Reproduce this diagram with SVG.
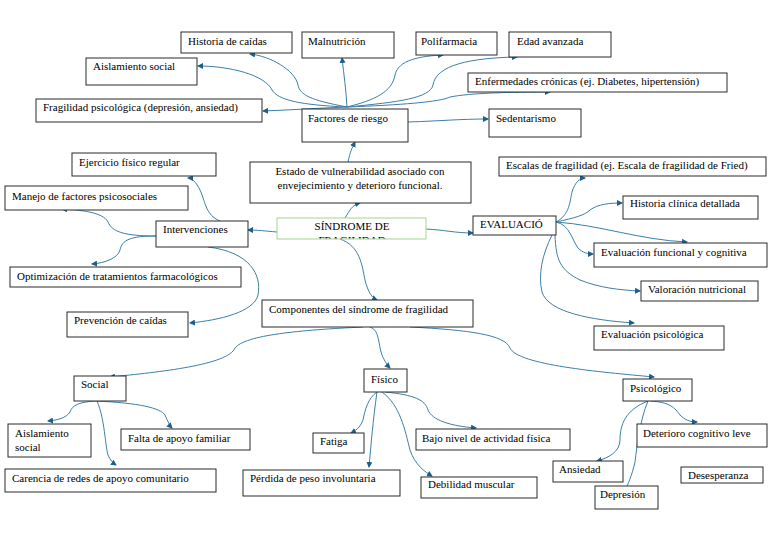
<svg xmlns="http://www.w3.org/2000/svg" width="768" height="543" viewBox="0 0 768 543">
<style>
.b{fill:#fff;stroke:#2a2a2a;stroke-width:1}
.t{font-family:"Liberation Serif","Times New Roman",serif;font-size:11px;fill:#000}
.c path{fill:none;stroke:#3b7fa8;stroke-width:1}
</style>
<defs>
<marker id="a" viewBox="0 0 6 6" refX="5" refY="3" markerWidth="6" markerHeight="6" markerUnits="userSpaceOnUse" orient="auto">
<path d="M0,0 L6,3 L0,6 z" fill="#1d5f8a"/>
</marker>
<clipPath id="sc"><rect x="277" y="218" width="149" height="20.5"/></clipPath>
</defs>
<rect width="768" height="543" fill="#fff"/>

<g class="c">
<path d="M347,107 C310,100 300,95 298,85 C295,70 270,56 250,54" marker-end="url(#a)"/>
<path d="M347,107 C300,105 278,100 272,90 C265,75 230,66 198,66" marker-end="url(#a)"/>
<path d="M347,107 C320,108 290,110 263,111" marker-end="url(#a)"/>
<path d="M347,107 C346,90 344,75 342,58" marker-end="url(#a)"/>
<path d="M347,107 C375,100 392,92 395,75 C398,60 420,56 443,55" marker-end="url(#a)"/>
<path d="M347,107 C400,102 430,98 433,85 C436,65 470,58 517,57" marker-end="url(#a)"/>
<path d="M347,107 C400,105 440,102 450,97 C470,93 510,92 550,92" marker-end="url(#a)"/>
<path d="M408,122 C440,121 460,119 488,119" marker-end="url(#a)"/>
<path d="M348,162 C350,152 352,148 355,142" marker-end="url(#a)"/>
<path d="M345,218 C350,210 352,205 360,203" marker-end="url(#a)"/>
<path d="M277,232 C265,231 258,230 248,230" marker-end="url(#a)"/>
<path d="M426,229 C445,230 455,233 473,233" marker-end="url(#a)"/>
<path d="M340,239 C360,246 362,265 365,280 C368,292 372,298 377,300" marker-end="url(#a)"/>
<path d="M220,221 C205,215 205,200 200,190 C196,182 192,178 188,178" marker-end="url(#a)"/>
<path d="M156,236 C125,236 112,232 108,222 C103,212 80,210 62,209" marker-end="url(#a)"/>
<path d="M156,236 C130,236 122,240 120,250 C118,258 105,263 92,264" marker-end="url(#a)"/>
<path d="M208,247 C250,252 262,275 258,295 C254,312 220,320 190,323" marker-end="url(#a)"/>
<path d="M556,222 C570,215 570,200 572,192 C575,182 580,178 585,178" marker-end="url(#a)"/>
<path d="M556,222 C575,218 585,215 590,210 C598,204 610,203 622,203" marker-end="url(#a)"/>
<path d="M556,222 C600,225 640,240 687,242" marker-end="url(#a)"/>
<path d="M556,222 C570,225 572,240 578,248 C583,253 588,254 593,254" marker-end="url(#a)"/>
<path d="M555,235 C556,260 560,270 580,280 C600,288 620,290 640,291" marker-end="url(#a)"/>
<path d="M552,235 C542,255 538,275 542,292 C548,312 590,320 634,323" marker-end="url(#a)"/>
<path d="M363,327 C300,330 245,335 235,348 C228,365 160,372 110,377" marker-end="url(#a)"/>
<path d="M370,327 C380,330 378,345 382,355 C385,362 388,366 390,368" marker-end="url(#a)"/>
<path d="M410,327 C470,330 505,335 510,348 C518,365 600,372 654,377" marker-end="url(#a)"/>
<path d="M95,401 C80,402 72,405 70,412 C66,418 58,420 48,421" marker-end="url(#a)"/>
<path d="M95,401 C140,403 160,408 165,415 C168,422 170,426 172,428" marker-end="url(#a)"/>
<path d="M97,401 C105,420 105,445 108,455 C110,460 113,463 116,465" marker-end="url(#a)"/>
<path d="M377,392 C368,398 365,410 363,420 C360,428 355,431 351,433" marker-end="url(#a)"/>
<path d="M377,392 C373,420 371,445 369,467" marker-end="url(#a)"/>
<path d="M385,392 C415,395 425,400 428,410 C432,420 450,426 476,428" marker-end="url(#a)"/>
<path d="M382,392 C400,405 405,430 410,450 C415,465 425,472 432,476" marker-end="url(#a)"/>
<path d="M650,401 C670,402 675,408 680,415 C685,420 690,422 697,422" marker-end="url(#a)"/>
<path d="M648,401 C625,410 620,425 620,440 C620,452 608,458 597,461" marker-end="url(#a)"/>
<path d="M648,401 C640,420 637,445 635,462 C632,475 628,485 624,492" marker-end="url(#a)"/>
</g>

<g id="historia-caidas"><rect class="b" x="181" y="32" width="111" height="21"/><text class="t" x="188" y="45">Historia de caídas</text></g>
<g id="malnutricion"><rect class="b" x="302" y="32" width="92" height="26"/><text class="t" x="308" y="45">Malnutrición</text></g>
<g id="polifarmacia"><rect class="b" x="416" y="32" width="81" height="23"/><text class="t" x="421" y="45">Polifarmacia</text></g>
<g id="edad-avanzada"><rect class="b" x="509" y="32" width="102" height="25"/><text class="t" x="517" y="45">Edad avanzada</text></g>
<g id="aislamiento-social-r"><rect class="b" x="86" y="58" width="111" height="27"/><text class="t" x="93" y="70">Aislamiento social</text></g>
<g id="enfermedades"><rect class="b" x="468" y="73" width="259" height="19"/><text class="t" x="475" y="85">Enfermedades crónicas (ej. Diabetes, hipertensión)</text></g>
<g id="fragilidad-psico"><rect class="b" x="36" y="99" width="226" height="23"/><text class="t" x="43" y="111">Fragilidad psicológica (depresión, ansiedad)</text></g>
<g id="factores"><rect class="b" x="302" y="109" width="106" height="33"/><text class="t" x="308" y="122">Factores de riesgo</text></g>
<g id="sedentarismo"><rect class="b" x="489" y="109" width="92" height="28"/><text class="t" x="496" y="122">Sedentarismo</text></g>

<g id="ejercicio"><rect class="b" x="72" y="153" width="144" height="23"/><text class="t" x="79" y="166">Ejercicio físico regular</text></g>
<g id="estado"><rect class="b" x="250" y="162" width="221" height="41"/><text class="t" x="360" y="175" text-anchor="middle">Estado de vulnerabilidad asociado con</text><text class="t" x="360" y="189" text-anchor="middle">envejecimiento y deterioro funcional.</text></g>
<g id="escalas"><rect class="b" x="499" y="157" width="267" height="19"/><text class="t" x="506" y="169">Escalas de fragilidad (ej. Escala de fragilidad de Fried)</text></g>
<g id="manejo"><rect class="b" x="5" y="186" width="183" height="24"/><text class="t" x="12" y="200">Manejo de factores psicosociales</text></g>
<g id="historia-clinica"><rect class="b" x="623" y="196" width="135" height="23"/><text class="t" x="630" y="207">Historia clínica detallada</text></g>
<g id="intervenciones"><rect class="b" x="156" y="221" width="92" height="26"/><text class="t" x="163" y="233">Intervenciones</text></g>
<g id="sindrome"><rect x="277" y="218" width="149" height="21" fill="#fff" stroke="#a3d68c" stroke-width="1"/><text class="t" x="352" y="230" text-anchor="middle">SÍNDROME DE</text><text class="t" x="352" y="243.5" text-anchor="middle" clip-path="url(#sc)">FRAGILIDAD</text></g>
<g id="evaluacion"><rect class="b" x="473" y="216" width="83" height="19"/><text class="t" x="480" y="228">EVALUACIÓ</text></g>
<g id="eval-funcional"><rect class="b" x="594" y="243" width="173" height="24"/><text class="t" x="601" y="256">Evaluación funcional y cognitiva</text></g>
<g id="optimizacion"><rect class="b" x="10" y="267" width="231" height="20"/><text class="t" x="17" y="280">Optimización de tratamientos farmacológicos</text></g>
<g id="valoracion"><rect class="b" x="641" y="281" width="117" height="20"/><text class="t" x="648" y="293">Valoración nutricional</text></g>
<g id="componentes"><rect class="b" x="262" y="300" width="211" height="27"/><text class="t" x="269" y="313">Componentes del síndrome de fragilidad</text></g>
<g id="prevencion"><rect class="b" x="67" y="312" width="121" height="25"/><text class="t" x="74" y="324">Prevención de caídas</text></g>
<g id="eval-psico"><rect class="b" x="594" y="326" width="130" height="24"/><text class="t" x="601" y="338">Evaluación psicológica</text></g>

<g id="social"><rect class="b" x="74" y="376" width="52" height="25"/><text class="t" x="81" y="388">Social</text></g>
<g id="fisico"><rect class="b" x="364" y="369" width="43" height="23"/><text class="t" x="371" y="383">Físico</text></g>
<g id="psicologico"><rect class="b" x="623" y="379" width="69" height="22"/><text class="t" x="630" y="392">Psicológico</text></g>
<g id="aislamiento-social-c"><rect class="b" x="8" y="424" width="83" height="33"/><text class="t" x="15" y="437">Aislamiento</text><text class="t" x="15" y="451">social</text></g>
<g id="falta-apoyo"><rect class="b" x="121" y="429" width="129" height="21"/><text class="t" x="128" y="442">Falta de apoyo familiar</text></g>
<g id="fatiga"><rect class="b" x="313" y="433" width="51" height="20"/><text class="t" x="320" y="445">Fatiga</text></g>
<g id="bajo-nivel"><rect class="b" x="416" y="429" width="154" height="21"/><text class="t" x="422" y="442">Bajo nivel de actividad física</text></g>
<g id="deterioro"><rect class="b" x="637" y="424" width="130" height="23"/><text class="t" x="643" y="437">Deterioro cognitivo leve</text></g>
<g id="ansiedad"><rect class="b" x="553" y="461" width="70" height="21"/><text class="t" x="559" y="473">Ansiedad</text></g>
<g id="desesperanza"><rect class="b" x="681" y="467" width="82" height="16"/><text class="t" x="688" y="479">Desesperanza</text></g>
<g id="carencia"><rect class="b" x="5" y="469" width="211" height="23"/><text class="t" x="12" y="482">Carencia de redes de apoyo comunitario</text></g>
<g id="perdida"><rect class="b" x="243" y="470" width="157" height="26"/><text class="t" x="250" y="482">Pérdida de peso involuntaria</text></g>
<g id="debilidad"><rect class="b" x="421" y="477" width="116" height="21"/><text class="t" x="428" y="488">Debilidad muscular</text></g>
<g id="depresion"><rect class="b" x="595" y="486" width="63" height="23"/><text class="t" x="600" y="498">Depresión</text></g>
</svg>
